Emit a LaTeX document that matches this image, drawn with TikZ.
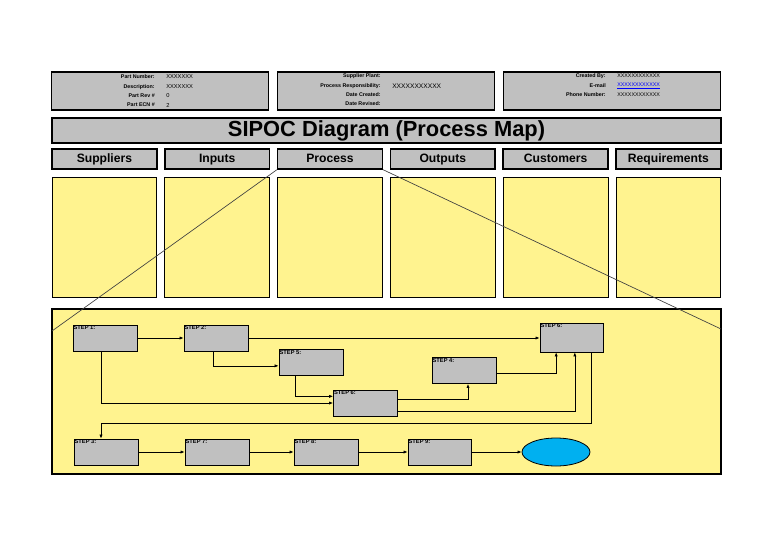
\documentclass[tikz,border=0pt]{standalone}
\usepackage{fontspec}
\setmainfont{Liberation Sans}
\usetikzlibrary{arrows.meta,shapes.geometric,positioning}

\definecolor{boxgrey}{RGB}{192,192,192}
\definecolor{padyellow}{RGB}{255,243,143}
\definecolor{endblue}{RGB}{0,176,240}

\tikzset{
    infobox/.style={draw, line width=1.1pt, fill=boxgrey, minimum width=162.5pt, minimum height=28.5pt, inner sep=0pt},
    field/.style={font=\bfseries\fontsize{4}{5}\selectfont, inner sep=0pt, anchor=east},
    entry/.style={font=\fontsize{4.3}{5}\selectfont, inner sep=0pt, anchor=west},
    colhead/.style={draw, line width=1.1pt, fill=boxgrey, minimum width=78.6pt, minimum height=15pt, inner sep=0pt,
        text height=6.6pt, text depth=1.9pt, font=\bfseries\fontsize{9.1}{10}\selectfont},
    colpad/.style={draw, line width=0.6pt, fill=padyellow, minimum width=78.6pt, minimum height=90pt, inner sep=0pt},
    stepbox/.style={draw, line width=0.6pt, fill=boxgrey, minimum width=48pt, minimum height=19.5pt, inner sep=0pt,
        label={[anchor=north west, inner sep=0.6pt, font=\bfseries\fontsize{4.3}{5}\selectfont]north west:{#1}}},
    flow/.style={line width=0.5pt, -{Latex[length=3pt,width=2.4pt]}},
    zoomline/.style={line width=0.5pt, black!75},
}

\begin{document}
\begin{tikzpicture}[x=0.75pt, y=-0.75pt]
    \useasboundingbox (0,0) rectangle (768,543);

    % header fields
    \node[infobox] (info1) at (160,91) {};
    \node[infobox] (info2) at (386,91) {};
    \node[infobox] (info3) at (612,91) {};

    \node[field] (pn) at (155,77) {Part Number:};   \node[entry] (pnv) at (166,77) {XXXXXXX};
    \node[field] (de) at (155,87) {Description:};   \node[entry] (dev) at (166,87) {XXXXXXX};
    \node[field] (pr) at (155,96) {Part Rev \#};    \node[entry] (prv) at (166,96) {0};
    \node[field] (pe) at (155,105) {Part ECN \#};   \node[entry] (pev) at (166,105) {2};

    \node[field] (sp) at (381,76) {Supplier Plant:};
    \node[field] (rs) at (381,86) {Process Responsibility:};
    \node[entry, font=\fontsize{5}{6}\selectfont] (rsv) at (392,86) {XXXXXXXXXXX};
    \node[field] (dc) at (381,95) {Date Created:};
    \node[field] (dr) at (381,104) {Date Revised:};

    \node[field] (cb) at (606,76) {Created By:};    \node[entry, font=\fontsize{4}{5}\selectfont] (cbv) at (617,76) {XXXXXXXXXXXX};
    \node[field] (em) at (606,86) {E-mail};         \node[entry, font=\fontsize{4}{5}\selectfont, text=blue] (emv) at (617,86) {\underline{XXXXXXXXXXXX}};
    \node[field] (ph) at (606,95) {Phone Number:};  \node[entry, font=\fontsize{4}{5}\selectfont] (phv) at (617,95) {XXXXXXXXXXXX};

    % title and columns
    \node[draw, line width=1.1pt, fill=boxgrey, minimum width=501.75pt, minimum height=18.75pt, inner sep=0pt,
          text height=11.8pt, text depth=3.4pt, font=\bfseries\fontsize{16.4}{18}\selectfont] (title) at (386.5,130.5) {SIPOC Diagram (Process Map)};

    \foreach \name [count=\i from 0] in {Suppliers,Inputs,Process,Outputs,Customers,Requirements} {
        \node[colhead] (h\i) at ({104.4+112.8*\i},159) {\name};
        \node[colpad] (p\i) at ({104.4+112.8*\i},237) {};
    }

    % process map
    \node[draw, line width=1.5pt, fill=padyellow, minimum width=501.75pt, minimum height=123.75pt, inner sep=0pt] (map) at (386.5,391.5) {};

    \node[stepbox={STEP 1:}] (s1) at (105,338) {};
    \node[stepbox={STEP 2:}] (s2) at (216,338) {};
    \node[stepbox={STEP 5:}] (s5) at (311,362.5) {};
    \node[stepbox={STEP 6:}] (s6a) at (365.5,403) {};
    \node[stepbox={STEP 4:}] (s4) at (464,370.5) {};
    \node[stepbox={STEP 6:}, minimum width=47.25pt, minimum height=21.75pt] (s6b) at (571.5,337.5) {};
    \node[stepbox={STEP 3:}] (s3) at (106,452) {};
    \node[stepbox={STEP 7:}] (s7) at (217,452) {};
    \node[stepbox={STEP 8:}] (s8) at (326,452) {};
    \node[stepbox={STEP 9:}, minimum width=47.25pt] (s9) at (439.5,452) {};
    \node[draw, ellipse, line width=0.6pt, fill=endblue, minimum width=51pt, minimum height=21pt] (stop) at (556,452) {};

    \draw[flow] (s1.east) -- (s2.west);
    \draw[flow] (s2.east) -- (s2.east -| s6b.west);
    \draw[flow] ([xshift=-2pt]s2.south) |- ([yshift=-2.5pt]s5.west);
    \draw[flow] ([xshift=-12pt]s5.south) |- ([yshift=5pt]s6a.west);
    \draw[flow] ([xshift=-3pt]s1.south) |- (s6a.west);
    \draw[flow] ([yshift=3pt]s6a.east) -| ([xshift=3pt]s4.south);
    \draw[flow] ([yshift=-2pt]s4.east) -| ([xshift=-11.5pt]s6b.south);
    \draw[flow] ([yshift=-6pt]s6a.east) -| ([xshift=2.5pt]s6b.south);

    \coordinate (ret) at (101,423);
    \draw[flow] ([xshift=14.5pt]s6b.south) |- (ret) -- (ret |- s3.north);

    \draw[flow] (s3) -- (s7);
    \draw[flow] (s7) -- (s8);
    \draw[flow] (s8) -- (s9);
    \draw[flow] (s9) -- (stop);

    % zoom lines from the process column
    \coordinate (zl) at (52,331);
    \coordinate (zr) at (721,329);
    \draw[zoomline] (h2.south west) -- (zl);
    \draw[zoomline] (h2.south east) -- (zr);
\end{tikzpicture}
\end{document}
